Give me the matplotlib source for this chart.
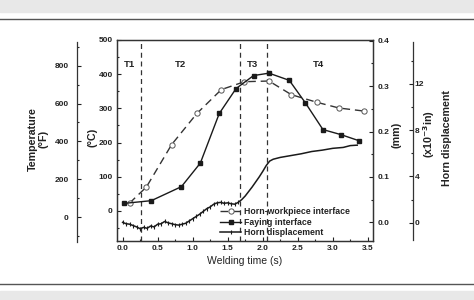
import matplotlib.pyplot as plt
from matplotlib.ticker import MultipleLocator
from matplotlib.lines import Line2D
from matplotlib.patches import Rectangle

# faying interface temperature (deg C)
faying_t = [0.02, 0.41, 0.84, 1.11, 1.38, 1.62, 1.87, 2.09, 2.38, 2.61, 2.86, 3.12, 3.38]
faying_c = [22, 30, 71, 140, 285, 358, 396, 403, 382, 316, 238, 223, 205]

# horn-workpiece interface temperature (deg C)
horn_t = [0.10, 0.34, 0.70, 1.06, 1.41, 1.74, 2.09, 2.41, 2.77, 3.09, 3.45]
horn_c = [23, 70, 194, 285, 355, 378, 380, 340, 318, 301, 292]

# horn displacement (mm)
disp_t = [0.00, 0.05, 0.10, 0.15, 0.20, 0.25, 0.30, 0.35, 0.40, 0.45, 0.50, 0.55,
          0.60, 0.65, 0.70, 0.75, 0.80, 0.85, 0.90, 0.95, 1.00, 1.05, 1.10, 1.15,
          1.20, 1.25, 1.30, 1.35, 1.40, 1.45, 1.50, 1.55, 1.60, 1.65, 1.70, 1.75,
          1.80, 1.85, 1.90, 1.95, 2.00, 2.05, 2.10, 2.15, 2.25, 2.40, 2.55, 2.70,
          2.85, 3.00, 3.15, 3.25, 3.35]
disp_mm = [0.000, -0.003, -0.004, -0.007, -0.010, -0.014, -0.011, -0.013, -0.008, -0.010,
           -0.004, -0.003, 0.002, -0.001, -0.003, -0.005, -0.006, -0.004, -0.002, 0.003,
           0.008, 0.013, 0.018, 0.024, 0.030, 0.034, 0.040, 0.043, 0.044, 0.042,
           0.043, 0.041, 0.040, 0.044, 0.050, 0.058, 0.068, 0.078, 0.089, 0.100,
           0.112, 0.125, 0.135, 0.139, 0.143, 0.147, 0.151, 0.156, 0.159, 0.163,
           0.165, 0.169, 0.170]

stage_lines = [0.26, 1.67, 2.06]
stage_labels = ["T1", "T2", "T3", "T4"]
stage_label_t = [0.10, 0.83, 1.86, 2.79]

plt.rcParams['font.family'] = ['Liberation Sans', 'DejaVu Sans']
plt.rcParams['font.weight'] = 'bold'
plt.rcParams['mathtext.default'] = 'bf'
txt = '#222222'
line_c = '#1a1a1a'

W, H = 474, 300
fig = plt.figure(figsize=(4.74, 3.0), dpi=100)

# grey bands and frame lines of the page
fig.patches.append(Rectangle((0, 1 - 12 / H), 1, 12 / H, transform=fig.transFigure,
                             color='#e8e8e8', zorder=-1))
fig.patches.append(Rectangle((0, 0), 1, 9 / H, transform=fig.transFigure,
                             color='#e8e8e8', zorder=-1))
fig.lines.append(Line2D([0, 1], [1 - 19 / H] * 2, transform=fig.transFigure,
                        color='#555555', lw=1.0))
fig.lines.append(Line2D([0, 1], [1 - 284 / H] * 2, transform=fig.transFigure,
                        color='#555555', lw=1.0))


def px_box(x0, y_top, x1, y_bot):
    return [x0 / W, 1 - y_bot / H, (x1 - x0) / W, (y_bot - y_top) / H]


ax = fig.add_axes(px_box(117, 40, 373, 241))
ax.set_xlim(-0.08, 3.575)
ax.set_ylim(-88, 500)

for t in stage_lines:
    ax.axvline(t, color='#333333', lw=0.9, ls=(0, (4, 3)))
for lab, t in zip(stage_labels, stage_label_t):
    ax.text(t, 427, lab, ha='center', va='center', fontsize=6.8, color=txt)

h1, = ax.plot(horn_t, horn_c, ls=(0, (5.5, 3.5)), color='#333333', lw=1.0, marker='o',
              ms=3.8, mfc='white', mec='#555555', mew=0.7,
              label='Horn-workpiece interface')
h2, = ax.plot(faying_t, faying_c, color=line_c, lw=1.0, marker='s', ms=3.3,
              mfc=line_c, mec=line_c, label='Faying interface')

ax2 = ax.twinx()
ax2.set_ylim(-0.041, 0.4015)
h3, = ax2.plot(disp_t, disp_mm, color=line_c, lw=1.1, marker='|', ms=2.2, mew=0.8,
               markevery=slice(0, 34), label='Horn displacement')

ax.xaxis.set_major_locator(MultipleLocator(0.5))
ax.xaxis.set_minor_locator(MultipleLocator(0.25))
ax.yaxis.set_major_locator(MultipleLocator(100))
ax.yaxis.set_minor_locator(MultipleLocator(50))
ax2.yaxis.set_major_locator(MultipleLocator(0.1))
ax2.yaxis.set_minor_locator(MultipleLocator(0.05))
ax.xaxis.set_major_formatter(lambda v, p: f"{v:.1f}")
ax2.yaxis.set_major_formatter(lambda v, p: f"{v:.1f}")

for a in (ax, ax2):
    a.tick_params(which='both', direction='in', colors=txt, labelsize=6,
                  top=False, width=0.8)
    a.tick_params(which='major', length=2.8, pad=3)
    a.tick_params(which='minor', length=1.6)
    for s in a.spines.values():
        s.set_color('#333333')
        s.set_linewidth(0.9)

ax.set_xlabel('Welding time (s)', fontsize=7.5, color=txt, labelpad=3)

leg = ax.legend(handles=[h1, h2, h3], loc='lower left',
                bbox_to_anchor=(220 / W, 1 - 237 / H), bbox_transform=fig.transFigure,
                frameon=False, fontsize=6.3, handlelength=2.4, handletextpad=0.4,
                labelspacing=0.15, borderpad=0, borderaxespad=0)
for t in leg.get_texts():
    t.set_color(txt)

# temperature in deg F on the far left
axf = fig.add_axes(px_box(77, 42, 78, 242))
axf.set_ylim(-131.5, 925)
axf.set_xticks([])
for k in ('top', 'right', 'bottom'):
    axf.spines[k].set_visible(False)
axf.spines['left'].set_color('#333333')
axf.spines['left'].set_linewidth(0.9)
axf.patch.set_visible(False)
axf.yaxis.set_major_locator(MultipleLocator(200))
axf.yaxis.set_minor_locator(MultipleLocator(100))
axf.tick_params(which='both', direction='in', colors=txt, labelsize=6, width=0.8, pad=6)
axf.tick_params(which='major', length=2.8)
axf.tick_params(which='minor', length=1.6)

# displacement in 1e-3 inch on the far right
axi = fig.add_axes(px_box(412, 42, 413, 240))
axi.set_ylim(-1.5, 15.63)
axi.set_xticks([])
for k in ('top', 'left', 'bottom'):
    axi.spines[k].set_visible(False)
axi.spines['right'].set_color('#333333')
axi.spines['right'].set_linewidth(0.9)
axi.patch.set_visible(False)
axi.yaxis.set_major_locator(MultipleLocator(4))
axi.yaxis.set_minor_locator(MultipleLocator(2))
axi.yaxis.tick_right()
axi.tick_params(which='both', direction='in', colors=txt, labelsize=6, width=0.8,
                pad=1)
axi.tick_params(which='major', length=2.8)
axi.tick_params(which='minor', length=1.6)

fig.text(38 / W, 1 - 139 / H, 'Temperature\n(°F)', rotation=90, ha='center',
         va='center', multialignment='center', fontsize=7.7, color=txt, linespacing=1.1)
fig.text(93 / W, 1 - 137 / H, '(°C)', rotation=90, ha='center', va='center',
         fontsize=7.7, color=txt)
fig.text(396 / W, 1 - 135 / H, '(mm)', rotation=90, ha='center', va='center',
         fontsize=7.7, color=txt)
fig.text(429 / W, 1 - 134 / H, r'(x10$^{-3}$in)', rotation=90, ha='center',
         va='center', fontsize=7.7, color=txt)
fig.text(447 / W, 1 - 138 / H, 'Horn displacement', rotation=90, ha='center',
         va='center', fontsize=7.7, color=txt)

fig.savefig('out.png', dpi=100)
